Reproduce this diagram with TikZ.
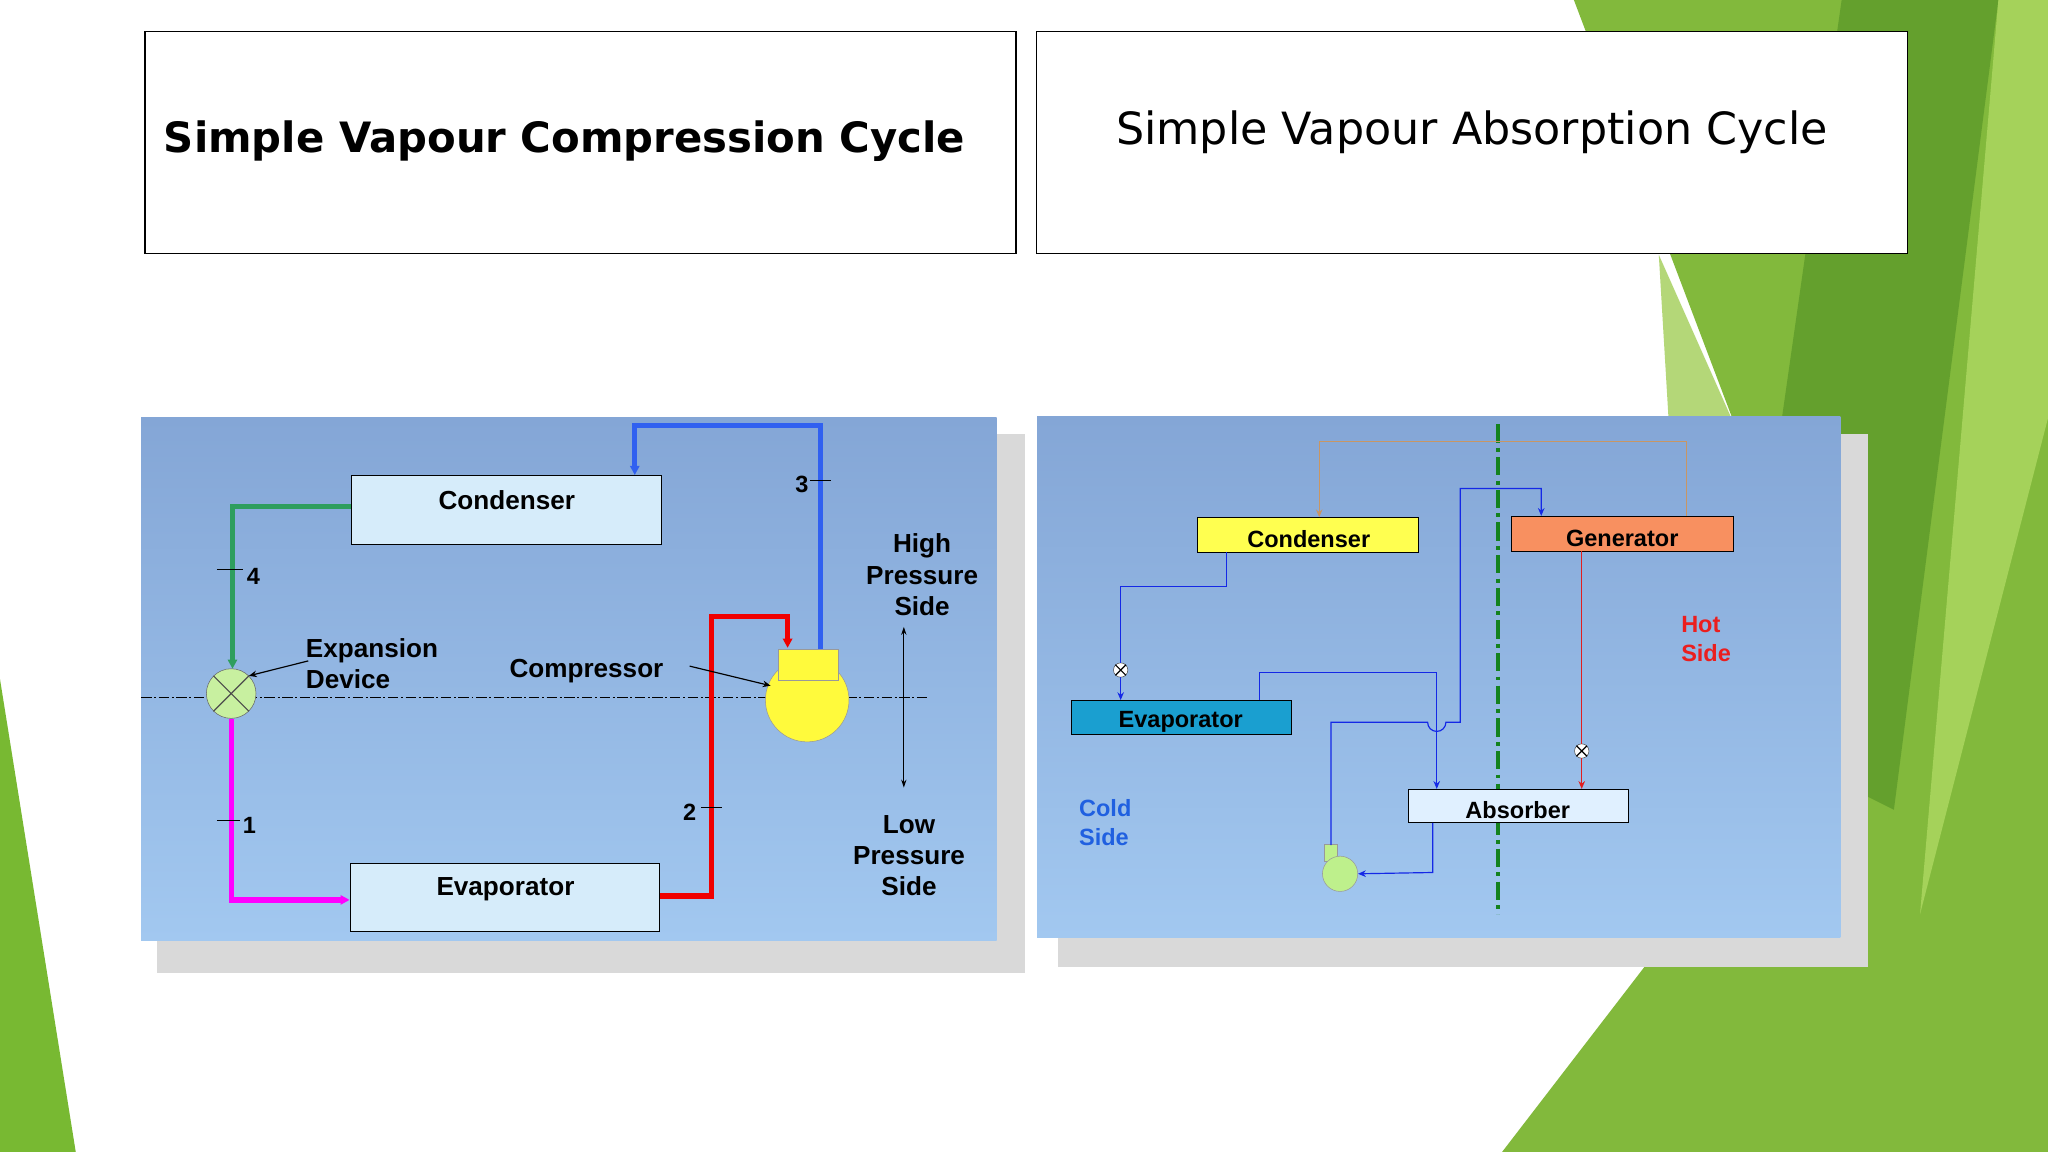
\documentclass[tikz,border=0pt]{standalone}
\usepackage{fontspec}
\setmainfont{Liberation Sans}
\newfontfamily\titlefont{DejaVu Sans}
\usetikzlibrary{arrows.meta}
\definecolor{gA}{RGB}{130,185,60}
\definecolor{gB}{RGB}{100,160,45}
\definecolor{gC}{RGB}{165,210,90}
\definecolor{gD}{RGB}{180,215,120}
\definecolor{gL}{RGB}{120,185,50}
\definecolor{pTop}{RGB}{132,166,214}
\definecolor{pBot}{RGB}{162,200,240}
\definecolor{lbox}{RGB}{214,236,250}
\definecolor{vgreen}{RGB}{200,240,160}
\definecolor{cyel}{RGB}{255,250,60}
\definecolor{pgreen}{RGB}{46,158,94}
\definecolor{pmag}{RGB}{255,0,255}
\definecolor{pred}{RGB}{240,0,0}
\definecolor{pblue}{RGB}{48,96,240}
\definecolor{dgreen}{RGB}{20,130,30}
\definecolor{ryel}{RGB}{255,255,80}
\definecolor{rorange}{RGB}{248,144,96}
\definecolor{revap}{RGB}{26,159,208}
\definecolor{rabs}{RGB}{224,240,255}
\definecolor{pumpg}{RGB}{190,240,140}
\definecolor{tan}{RGB}{200,150,100}
\definecolor{lblue}{RGB}{20,40,230}
\definecolor{lred}{RGB}{225,30,30}
\definecolor{hotc}{RGB}{235,30,30}
\definecolor{coldc}{RGB}{32,96,224}
\begin{document}
\begin{tikzpicture}[x=1pt,y=-1pt,
  box/.style={draw=black,line width=0.6pt,inner sep=0pt},
  lbl/.style={font=\bfseries\fontsize{20}{24}\selectfont,align=center,inner sep=0pt},
  rlbl/.style={font=\bfseries\fontsize{18}{22}\selectfont,inner sep=0pt},
  pipe/.style={line width=4pt},
  thin/.style={line width=0.9pt},
  arr/.style={-{Triangle[length=7pt,width=7pt]}},
  sarr/.style={-{Stealth[length=6pt,width=5pt]}},
  tick/.style={line width=0.7pt}]
\useasboundingbox (0,0) rectangle (1568,882);
\fill[white] (0,0) rectangle (1568,882);
% background greens
\fill[gL] (0,520) -- (58,882) -- (0,882) -- cycle;
\fill[gA] (1205,0) -- (1568,0) -- (1568,882) -- (1150,882) -- (1290,700) -- (1330,330) -- cycle;
\fill[gB] (1410,0) -- (1530,0) -- (1450,620) -- (1330,560) -- cycle;
\fill[gC] (1530,0) -- (1568,0) -- (1568,320) -- (1470,700) -- cycle;
\fill[gD] (1270,195) -- (1330,330) -- (1300,700) -- cycle;
% titles
\node[box,line width=1.2pt,minimum width=667pt,minimum height=170pt,fill=white] (t1) at (444.5,109) {};
\node[anchor=west,font=\titlefont\bfseries\fontsize{32}{36}\selectfont] (t1t) at (122,108) {Simple Vapour Compression Cycle};
\node[box,line width=1.2pt,minimum width=667pt,minimum height=170pt,fill=white] (t2) at (1127,109) {};
\node[font=\titlefont\fontsize{34}{38}\selectfont] (t2t) at (1127,101) {Simple Vapour Absorption Cycle};
% left panel
\fill[black!15] (120,332) rectangle (785,745);
\shade[top color=pTop,bottom color=pBot] (108,320) rectangle (763,720);
\draw[thin,dash pattern=on 8pt off 2pt on 1.5pt off 2pt] (108,534) -- (710,534);
\node[box,fill=lbox,minimum width=237pt,minimum height=53pt] (cond) at (387.5,390.5) {};
\node[lbl] at (388,383) {Condenser};
\node[box,fill=lbox,minimum width=237pt,minimum height=52pt] (evap) at (386.5,687) {};
\node[lbl] at (387,681) {Evaporator};
\node[circle,draw=black!60,fill=vgreen,minimum size=38pt,inner sep=0pt] (valve) at (177,531) {};
\draw[black!70,thin] (valve.north west) -- (valve.south east) (valve.north east) -- (valve.south west);
\node[circle,draw=black!40,fill=cyel,minimum size=64pt,inner sep=0pt] (comp) at (618,536) {};
\node[draw=black!40,fill=cyel,minimum width=46pt,minimum height=24pt,inner sep=0pt] (ctop) at (619,509) {};
% pipes
\draw[pipe,color=pgreen,arr] (cond.west |- 0,388) -- (178,388) -- (178,512);
\draw[pipe,color=pmag,arr] (valve.south) -- (177,689) -- (evap.west |- 0,689);
\draw[pipe,color=pred,arr] (evap.east |- 0,686) -- (545,686) -- (545,472) -- (603,472) -- (603,496);
\draw[pipe,color=pblue,arr] (628,497) -- (628,326) -- (486,326) -- (cond.north -| 486,0);
% ticks
\draw[tick] (620,368) -- (636,368); \node[rlbl] at (614,371) {3};
\draw[tick] (166,436) -- (186,436); \node[rlbl] at (194,441) {4};
\draw[tick] (166,628) -- (184,628); \node[rlbl] at (191,632) {1};
\draw[tick] (537,618) -- (553,618); \node[rlbl] at (528,622) {2};
\node[lbl,align=left,anchor=west] (exp) at (234,508) {Expansion\\Device};
\draw[thin,sarr] (236,506) -- (valve.north east);
\node[lbl] (clbl) at (449,514) {Compressor};
\draw[thin,sarr] (528,510) -- (590,525);
\node[lbl] (hp) at (706,440) {High\\Pressure\\Side};
\node[lbl] (lp) at (696,655) {Low\\Pressure\\Side};
\coordinate (pa) at (692,480); \coordinate (pb) at (692,603);
\draw[thin,{Stealth[length=6pt,width=4pt]}-{Stealth[length=6pt,width=4pt]}] (pa) -- (pb);
% right panel
\fill[black!15] (810,332) rectangle (1430,740);
\shade[top color=pTop,bottom color=pBot] (794,319) rectangle (1409,718);
\draw[line width=3.5pt,color=dgreen,dash pattern=on 14pt off 4pt on 3pt off 4pt] (1147,325) -- (1147,700);
\node[box,fill=ryel,minimum width=169pt,minimum height=27pt] (rc) at (1001.5,409.5) {};
\node[rlbl] at (1002,413) {Condenser};
\node[box,fill=rorange,minimum width=170pt,minimum height=27pt] (rg) at (1242,408.5) {};
\node[rlbl] at (1242,412) {Generator};
\node[box,fill=revap,minimum width=169pt,minimum height=26pt] (re) at (904.5,549) {};
\node[rlbl] at (904,553) {Evaporator};
\node[box,fill=rabs,minimum width=169pt,minimum height=26pt] (ra) at (1162.5,617) {};
\node[rlbl] at (1162,620) {Absorber};
\node[circle,draw=black!70,fill=white,minimum size=11pt,inner sep=0pt] (v1) at (858,513) {};
\draw[thin] (v1.north west) -- (v1.south east) (v1.north east) -- (v1.south west);
\node[circle,draw=black!70,fill=white,minimum size=11pt,inner sep=0pt] (v2) at (1211,575) {};
\draw[thin] (v2.north west) -- (v2.south east) (v2.north east) -- (v2.south west);
\node[draw=black!40,fill=pumpg,minimum width=10pt,minimum height=13pt,inner sep=0pt] (ptop) at (1019,653) {};
\node[circle,draw=black!40,fill=pumpg,minimum size=27pt,inner sep=0pt] (pump) at (1026,669) {};
\draw[thin,color=tan,sarr] (1291,395) -- (1291,338) -- (1010,338) -- (1010,396);
\draw[thin,color=lblue] (939,423) -- (939,449) -- (858,449) -- (v1.north);
\draw[thin,color=lblue,sarr] (v1.south) -- (858,536);
\draw[thin,color=lblue,sarr] (964,536) -- (964,515) -- (1100,515) -- (1100,604);
\draw[thin,color=lblue,sarr] (1019,647) -- (1019,553) -- (1093,553) arc[start angle=180,end angle=0,radius=7] -- (1118,553) -- (1118,374) -- (1180,374) -- (1180,395);
\draw[thin,color=lblue,sarr] (1097,630) -- (1097,668) -- (pump.east);
\draw[thin,color=lred] (1211,422) -- (v2.north);
\draw[thin,color=lred,sarr] (v2.south) -- (1211,604);
\node[rlbl,align=left,anchor=west,color=hotc] (hot) at (1287,489) {Hot\\Side};
\node[rlbl,align=left,anchor=west,color=coldc] (cold) at (826,630) {Cold\\Side};
\end{tikzpicture}
\end{document}
